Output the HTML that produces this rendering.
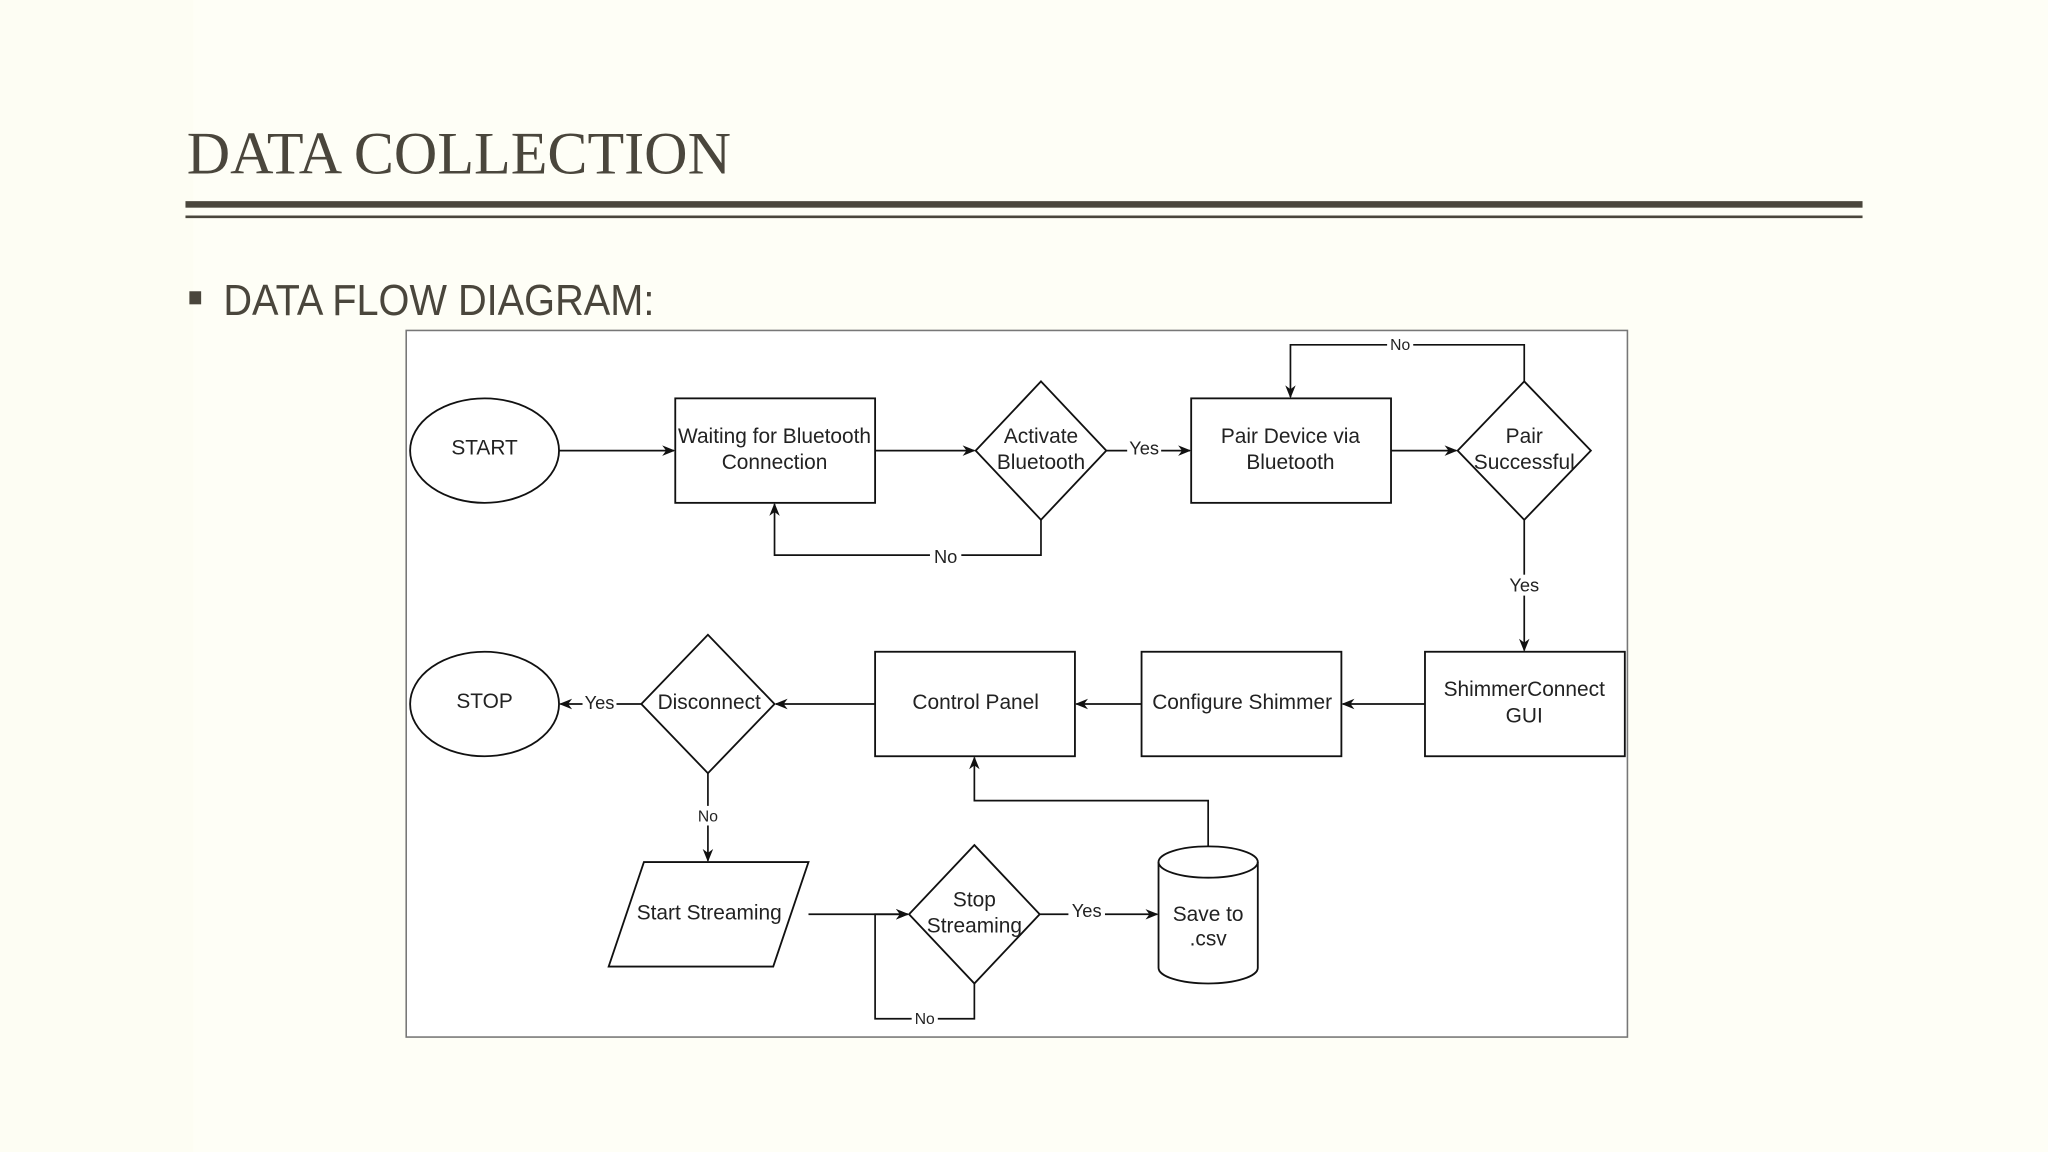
<!DOCTYPE html>
<html><head><meta charset="utf-8"><style>
html,body{margin:0;padding:0;background:#fefef6;}
svg{display:block}
</style></head><body>
<svg width="2048" height="1152" viewBox="0 0 1568 882" xmlns="http://www.w3.org/2000/svg">
<defs>
<marker id="a" markerWidth="10" markerHeight="10" refX="9" refY="5" orient="auto" markerUnits="userSpaceOnUse">
<path d="M0,1 L10,5 L0,9 L3,5 Z" fill="#111"/></marker>
</defs>
<rect width="1568" height="882" fill="#fefef6"/>
<rect x="0" y="0" width="148" height="882" fill="#fdfdf3"/>
<text x="143" y="133" font-family="Liberation Serif, serif" font-size="46" fill="#4a463c">DATA COLLECTION</text>
<rect x="142" y="154" width="1284" height="5" fill="#4a463c"/>
<rect x="142" y="165" width="1284" height="2" fill="#4a463c"/>
<rect x="145" y="223" width="9" height="10" fill="#4a463c"/>
<text x="171" y="241" font-family="Liberation Sans Narrow, Liberation Sans, sans-serif" font-size="33" fill="#4a463c" textLength="330" lengthAdjust="spacingAndGlyphs">DATA FLOW DIAGRAM:</text>

<rect x="311" y="253" width="935" height="541" fill="#fff" stroke="#777" stroke-width="1.2"/>
<g fill="#fff" stroke="#111" stroke-width="1.4">
<ellipse cx="371" cy="345" rx="57" ry="40"/>
<rect x="517" y="305" width="153" height="80"/>
<polygon points="797,292 847,345 797,398 747,345"/>
<rect x="912" y="305" width="153" height="80"/>
<polygon points="1167,292 1218,345 1167,398 1116,345"/>
<rect x="1091" y="499" width="153" height="80"/>
<rect x="874" y="499" width="153" height="80"/>
<rect x="670" y="499" width="153" height="80"/>
<polygon points="542,486 593,539 542,592 491,539"/>
<ellipse cx="371" cy="539" rx="57" ry="40"/>
<polygon points="493,660 619,660 592,740 466,740"/>
<polygon points="746,647 796,700 746,753 696,700"/>
<path d="M887,660 A38,12 0 0 1 963,660 L963,741 A38,12 0 0 1 887,741 Z"/>
<path d="M887,660 A38,12 0 0 0 963,660" fill="none"/>
</g>
<g fill="none" stroke="#111" stroke-width="1.3" marker-end="url(#a)">
<path d="M428,345 H516"/>
<path d="M670,345 H746"/>
<path d="M847,345 H911"/>
<path d="M797,398 V425 H593 V386"/>
<path d="M1065,345 H1115"/>
<path d="M1167,292 V264 H988 V304"/>
<path d="M1167,398 V498"/>
<path d="M1091,539 H1028"/>
<path d="M874,539 H824"/>
<path d="M670,539 H594"/>
<path d="M491,539 H429"/>
<path d="M542,592 V659"/>
<path d="M619,700 H695"/>
<path d="M796,700 H886"/>
<path d="M746,753 V780 H670 V700 H695"/>
<path d="M925,648 V613 H746 V580"/>
</g>
<g font-family="Liberation Sans, sans-serif" font-size="16" fill="#222" text-anchor="middle">
<text x="371" y="348">START</text>
<text x="593" y="339">Waiting for Bluetooth</text>
<text x="593" y="359">Connection</text>
<text x="797" y="339">Activate</text>
<text x="797" y="359">Bluetooth</text>
<text x="988" y="339">Pair Device via</text>
<text x="988" y="359">Bluetooth</text>
<text x="1167" y="339">Pair</text>
<text x="1167" y="359">Successful</text>
<text x="1167" y="533">ShimmerConnect</text>
<text x="1167" y="553">GUI</text>
<text x="951" y="543">Configure Shimmer</text>
<text x="747" y="543">Control Panel</text>
<text x="543" y="543">Disconnect</text>
<text x="371" y="542">STOP</text>
<text x="543" y="704">Start Streaming</text>
<text x="746" y="694">Stop</text>
<text x="746" y="714">Streaming</text>
<text x="925" y="705">Save to</text>
<text x="925" y="724">.csv</text>
</g>
<g font-family="Liberation Sans, sans-serif" font-size="14" fill="#222" text-anchor="middle">
<rect x="863" y="335" width="26" height="16" fill="#fff"/><text x="876" y="348">Yes</text>
<rect x="712" y="418" width="24" height="16" fill="#fff"/><text x="724" y="431">No</text>
<rect x="1062" y="256" width="20" height="14" fill="#fff"/><text x="1072" y="268" font-size="12">No</text>
<rect x="1154" y="440" width="26" height="16" fill="#fff"/><text x="1167" y="453">Yes</text>
<rect x="446" y="531" width="26" height="16" fill="#fff"/><text x="459" y="543">Yes</text>
<rect x="532" y="617" width="20" height="15" fill="#fff"/><text x="542" y="629" font-size="12">No</text>
<rect x="818" y="689" width="28" height="16" fill="#fff"/><text x="832" y="702">Yes</text>
<rect x="698" y="772" width="20" height="14" fill="#fff"/><text x="708" y="784" font-size="12">No</text>
</g>
</svg>
</body></html>
